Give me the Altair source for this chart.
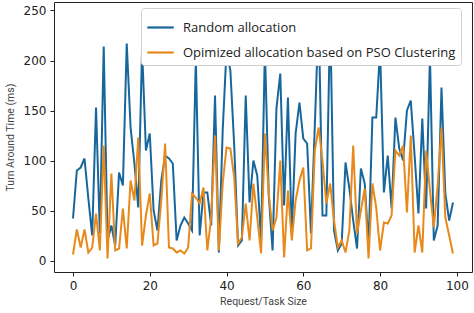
import altair as alt
import pandas as pd

task_size = list(range(100))

random_alloc = [42, 90, 93, 102, 62, 25, 153, 27, 214, 20,
                35, 15, 88, 75, 217, 133, 97, 53, 212, 110,
                127, 50, 30, 80, 105, 102, 97, 20, 35, 43,
                37, 30, 202, 25, 68, 68, 35, 165, 8, 130,
                211, 190, 115, 15, 20, 165, 58, 100, 85, 20,
                212, 65, 10, 152, 187, 55, 163, 28, 127, 158,
                122, 117, 27, 135, 246, 45, 45, 246, 30, 10,
                17, 98, 72, 40, 12, 92, 77, 15, 143, 143,
                212, 68, 105, 52, 143, 112, 100, 150, 160, 105,
                47, 142, 52, 205, 20, 35, 173, 67, 40, 58]

pso_alloc = [6, 31, 13, 31, 8, 13, 47, 10, 115, 2,
             87, 10, 12, 52, 12, 80, 60, 123, 15, 45,
             67, 15, 17, 60, 117, 13, 12, 8, 10, 7,
             13, 67, 63, 57, 73, 10, 43, 125, 10, 77,
             113, 112, 83, 17, 23, 57, 20, 77, 43, 7,
             127, 67, 30, 43, 100, 3, 70, 20, 60, 80,
             93, 10, 12, 110, 133, 100, 57, 77, 40, 13,
             20, 8, 30, 115, 27, 50, 72, 2, 77, 53,
             10, 38, 37, 45, 110, 105, 115, 48, 125, 8,
             35, 8, 110, 70, 33, 75, 133, 43, 25, 7]

series_names = ["Random allocation", "Opimized allocation based on PSO Clustering"]
series_colors = ["#17679d", "#e8891c"]

df = pd.concat([
    pd.DataFrame({"x": task_size, "y": random_alloc, "series": series_names[0]}),
    pd.DataFrame({"x": task_size, "y": pso_alloc, "series": series_names[1]}),
])

chart = alt.Chart(df).mark_line(strokeWidth=2, clip=True).encode(
    x=alt.X("x:Q", title="Request/Task Size",
            scale=alt.Scale(domain=[-4.95, 103.95], nice=False, zero=False),
            axis=alt.Axis(values=[0, 20, 40, 60, 80, 100], grid=False)),
    y=alt.Y("y:Q", title="Turn Around Time (ms)",
            scale=alt.Scale(domain=[-11.5, 258.5], nice=False, zero=False),
            axis=alt.Axis(values=[0, 50, 100, 150, 200, 250], grid=False)),
    color=alt.Color("series:N", title=None,
                    scale=alt.Scale(domain=series_names, range=series_colors),
                    legend=alt.Legend(orient="none", legendX=87, legendY=6,
                                      symbolType="stroke", symbolSize=700,
                                      symbolStrokeWidth=2.2, labelFont="Open Sans",
                                      labelFontSize=13, labelColor="#222",
                                      fillColor="white",
                                      strokeColor="#d0d0d0",
                                      padding=5, rowPadding=3, labelOffset=8,
                                      cornerRadius=3, labelLimit=400)),
    order="series:N",
).properties(
    width=418, height=270,
    autosize=alt.AutoSizeParams(type="none"),
    padding={"left": 54, "top": 2, "right": 2, "bottom": 41},
).configure_view(
    stroke="#222", strokeWidth=1
).configure_axis(
    domain=False, tickColor="#222", tickSize=4, labelFont="DejaVu Sans",
    labelFontSize=12, labelColor="#222", labelPadding=4,
    titleFont="Roboto", titleFontSize=10.5, titleFontWeight="normal",
    titleColor="#444"
).configure_axisX(titlePadding=5).configure_axisY(titlePadding=8)

chart.save("out.html", embed_options={"renderer": "svg", "actions": False})
